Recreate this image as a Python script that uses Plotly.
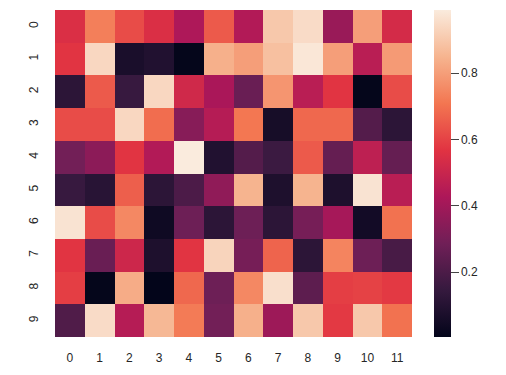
import plotly.graph_objects as go

rows = [str(i) for i in range(10)]
cols = [str(i) for i in range(12)]

row0 = [0.55, 0.73, 0.62, 0.55, 0.43, 0.65, 0.44, 0.90, 0.95, 0.38, 0.80, 0.53]
row1 = [0.57, 0.94, 0.07, 0.09, 0.01, 0.84, 0.80, 0.88, 0.98, 0.80, 0.46, 0.79]
row2 = [0.12, 0.65, 0.15, 0.94, 0.52, 0.42, 0.27, 0.78, 0.46, 0.57, 0.01, 0.62]
row3 = [0.62, 0.62, 0.94, 0.69, 0.34, 0.45, 0.71, 0.06, 0.68, 0.68, 0.22, 0.12]
row4 = [0.29, 0.35, 0.57, 0.44, 0.99, 0.09, 0.22, 0.16, 0.65, 0.26, 0.47, 0.26]
row5 = [0.15, 0.11, 0.66, 0.12, 0.20, 0.36, 0.85, 0.08, 0.85, 0.08, 0.97, 0.46]
row6 = [0.97, 0.62, 0.75, 0.04, 0.28, 0.12, 0.28, 0.12, 0.30, 0.41, 0.05, 0.70]
row7 = [0.57, 0.27, 0.51, 0.08, 0.57, 0.93, 0.30, 0.67, 0.12, 0.74, 0.28, 0.19]
row8 = [0.59, 0.01, 0.83, 0.005, 0.68, 0.28, 0.75, 0.96, 0.24, 0.59, 0.60, 0.58]
row9 = [0.21, 0.95, 0.45, 0.86, 0.72, 0.29, 0.84, 0.39, 0.90, 0.58, 0.90, 0.70]
values = [row0, row1, row2, row3, row4, row5, row6, row7, row8, row9]

cbar_ticks = [0.2, 0.4, 0.6, 0.8]

rocket = [
    [0.0, "#03051A"],
    [1/7, "#35193E"],
    [2/7, "#701F57"],
    [3/7, "#AD1759"],
    [4/7, "#E13342"],
    [5/7, "#F37651"],
    [6/7, "#F6B48F"],
    [1.0, "#FAEBDD"],
]

flat = [v for r in values for v in r]
W, H = 506, 375
L, R, T, B = 55, 94, 10, 32
plot_w = W - L - R
FONT = dict(family="Arial, Liberation Sans, sans-serif", size=12, color="#262626")

fig = go.Figure(go.Heatmap(
    z=values, x=list(range(12)), y=list(range(10)),
    colorscale=rocket, zmin=min(flat), zmax=max(flat),
    colorbar=dict(
        x=(434 - L) / plot_w, xanchor="left",
        y=0, yanchor="bottom", len=1, lenmode="fraction",
        thickness=17, thicknessmode="pixels",
        outlinewidth=0, xpad=0, ypad=0,
        tickvals=cbar_ticks, ticktext=[f"{t:.1f}" for t in cbar_ticks],
        ticks="outside", ticklen=8, tickwidth=1.3, tickcolor="#444444",
        tickfont=FONT,
    ),
))

fig.update_layout(
    width=W, height=H,
    margin=dict(l=L, r=R, t=T, b=B),
    paper_bgcolor="white", plot_bgcolor="white",
    font=FONT,
)
fig.update_xaxes(
    range=[-0.5, 11.5], tickvals=list(range(12)), ticktext=cols,
    showgrid=False, zeroline=False, showline=False,
    ticks="outside", ticklen=10, tickcolor="rgba(0,0,0,0)", tickangle=0,
)
fig.update_yaxes(
    range=[9.5, -0.5], tickvals=list(range(10)), ticktext=rows,
    showgrid=False, zeroline=False, showline=False,
    ticks="outside", ticklen=11, tickcolor="rgba(0,0,0,0)", tickangle=-90,
)

fig.write_html("out.html")
